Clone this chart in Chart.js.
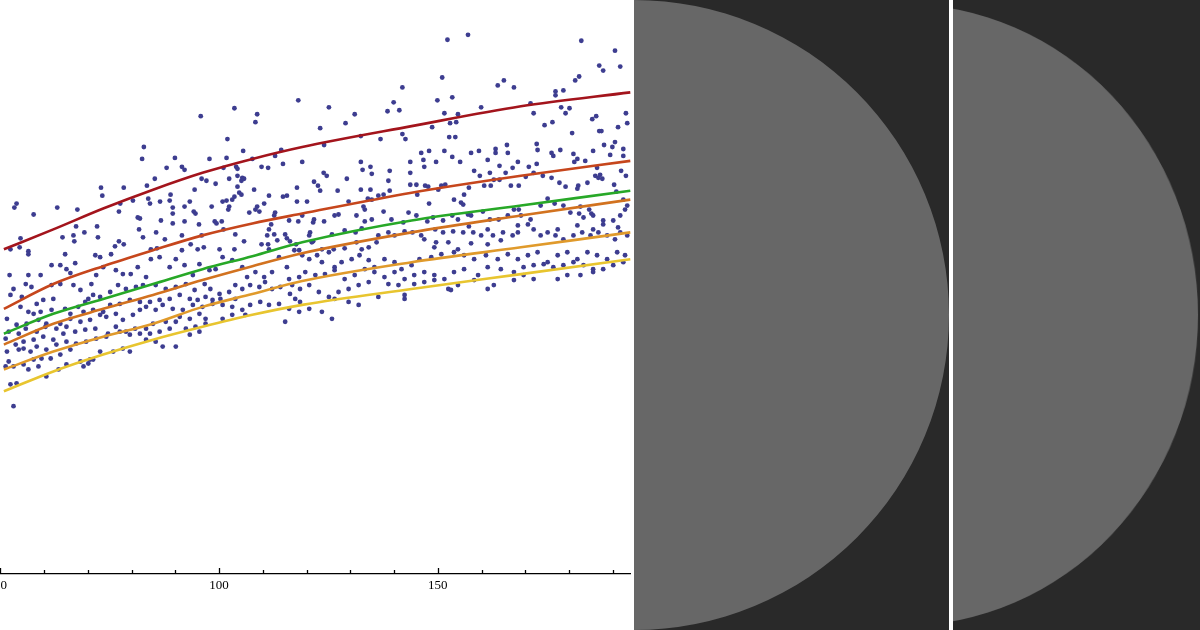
<!DOCTYPE html>
<html><head><meta charset="utf-8">
<script src="https://cdn.jsdelivr.net/npm/chart.js@4.4.1/dist/chart.umd.min.js"></script>
<style>
html,body{margin:0;padding:0;background:#fff;width:1200px;height:630px;overflow:hidden;}
#plotWrap{position:absolute;left:0;top:0;width:631px;height:630px;overflow:hidden;background:#fff;}
#plotBox{position:absolute;left:-60px;top:0;width:695px;height:630px;}
.panel{position:absolute;top:0;height:630px;background:#292929;overflow:hidden;}
#p1{left:634px;width:315px;}
#p2{left:953px;width:247px;}
#disc1{position:absolute;left:-315px;top:0;}
#disc2{position:absolute;left:-362px;top:4px;transform:scaleX(0.952);transform-origin:50% 50%;}
</style></head>
<body>
<div id="plotWrap"><div id="plotBox"><canvas id="plot" width="695" height="630"></canvas></div></div>
<div class="panel" id="p1"><canvas id="disc1" width="630" height="630"></canvas></div>
<div class="panel" id="p2"><canvas id="disc2" width="622" height="622"></canvas></div>
<script>
// x-axis ticks
const xTicks = [50,60,70,80,90,100,110,120,130,140,150,160,170,180,190];
const xTickLabels = [50,100,150];

// observations [x, y]
const observations = [
[118.1,47.7],[95.8,46.1],[103.5,46.9],[108.7,46.3],[108.3,45.5],[101.9,43.8],[82.8,43.0],[82.4,41.8],[89.9,41.9],[97.8,41.8],[101.7,41.9],[105.5,42.6],[107.6,41.8],[114.2,42.7],[112.8,42.1],[114.6,41.3],[109.7,41.0],[111.2,40.9],[88.0,40.9],[91.5,41.0],[92.1,40.7],[101.0,40.9],[103.9,41.0],[104.2,40.8],[85.3,39.8],[83.5,39.1],[73.0,38.9],[78.2,38.9],[73.3,38.1],[96.0,39.8],[97.1,39.6],[99.2,39.3],[102.3,39.8],[104.2,40.1],[105.3,39.9],[105.7,39.8],[105.1,39.6],[104.2,39.0],[108.0,38.7],[104.6,38.4],[105.1,38.2],[94.4,38.7],[88.9,38.2],[83.8,37.8],[84.2,37.3],[86.5,37.5],[88.7,37.6],[89.4,36.9],[89.4,36.3],[92.1,37.0],[93.3,37.5],[94.2,36.5],[94.6,36.3],[98.3,37.0],[100.8,37.5],[101.7,37.6],[102.3,37.0],[102.1,36.7],[103.0,37.7],[103.5,38.0],[111.4,38.1],[110.3,37.3],[108.7,37.0],[108.3,36.7],[106.9,36.4],[109.2,36.5],[112.8,36.4],[112.6,36.1],[114.6,38.0],[115.5,38.1],[117.8,38.9],[117.8,37.5],[118.1,35.5],[116.0,35.6],[111.9,35.2],[111.4,34.7],[112.6,34.2],[115.1,34.2],[115.5,33.8],[116.2,33.5],[118.3,32.6],[117.2,32.6],[117.6,33.2],[111.2,33.2],[109.7,33.2],[111.4,32.7],[113.3,33.6],[111.0,34.1],[103.7,34.2],[105.7,33.5],[101.0,34.7],[100.6,35.5],[99.0,35.5],[99.4,35.3],[96.0,34.1],[95.4,35.2],[92.1,35.5],[89.4,35.3],[86.7,35.6],[91.5,34.1],[93.5,33.2],[95.1,32.7],[96.5,32.9],[87.6,33.7],[85.6,34.4],[81.7,34.7],[82.6,33.9],[81.4,35.9],[81.9,35.8],[80.3,37.6],[77.4,37.3],[77.1,36.5],[67.6,36.7],[63.0,36.9],[57.6,36.2],[53.7,37.3],[53.2,36.9],[67.3,35.0],[72.1,35.0],[69.2,34.4],[66.7,34.1],[64.2,33.9],[66.9,33.5],[72.3,33.9],[77.1,33.5],[78.2,33.2],[76.2,33.0],[54.6,33.8],[54.4,32.9],[52.3,32.7],[56.4,32.5],[84.4,32.7],[85.8,32.8],[100.1,32.7],[103.5,32.7],[91.5,32.6],
[152.2,53.8],[156.9,54.3],[182.8,53.7],[190.5,52.7],[186.9,51.2],[187.8,50.7],[191.7,51.1],[151.0,50.0],[141.9,49.0],[163.7,49.2],[165.1,49.7],[167.4,49.0],[176.9,48.6],[176.9,48.2],[178.7,48.7],[181.4,49.7],[182.3,50.1],[125.1,47.0],[123.1,44.9],[131.0,46.3],[128.9,45.4],[139.9,47.5],[141.2,46.7],[138.5,46.6],[149.9,47.7],[153.3,48.0],[151.5,46.4],[159.9,47.0],[154.6,46.3],[154.2,45.5],[152.8,45.4],[148.7,45.0],[141.9,44.3],[142.6,43.8],[136.9,43.8],[124.0,43.2],[132.4,44.1],[152.6,44.0],[154.0,44.0],[171.2,47.4],[171.9,46.4],[174.4,45.2],[176.2,45.5],[178.2,47.0],[180.1,46.9],[179.2,46.4],[185.3,45.8],[186.2,46.1],[187.4,44.6],[186.9,44.6],[191.2,45.0],[193.0,46.4],[193.3,45.4],[180.7,44.4],
[119.0,41.5],[132.4,41.5],[134.6,41.0],[132.8,40.7],[134.9,40.3],[129.2,39.8],[139.0,40.6],[138.7,39.6],[123.9,40.4],[124.6,40.1],[121.7,39.5],[122.6,39.1],[123.1,38.6],[127.1,38.6],[132.4,38.7],[134.6,38.7],[134.0,37.8],[143.7,41.5],[143.7,40.4],[146.2,42.4],[148.0,42.6],[146.7,41.7],[146.9,41.0],[149.6,41.5],[151.5,42.6],[153.3,42.0],[155.1,41.5],[157.6,42.4],[159.4,42.6],[158.3,40.6],[159.6,40.1],[161.4,41.7],[163.2,42.8],[163.2,42.4],[165.8,43.2],[166.0,42.4],[168.3,41.5],[164.1,41.1],[161.9,40.4],[162.8,39.7],[165.5,40.4],[167.1,40.9],[170.8,41.0],[172.6,41.3],[172.8,42.7],[172.6,43.3],[176.0,42.4],[176.4,42.1],[178.0,42.7],[181.0,42.3],[181.9,41.8],[181.2,41.5],[183.7,41.6],[185.5,42.6],[188.0,43.2],[189.9,43.0],[189.4,42.2],[190.5,43.5],[192.4,42.8],[191.9,40.6],[193.0,40.1],[192.4,42.1],[186.4,40.9],[187.1,40.2],[186.0,40.1],[186.7,39.9],[187.6,39.8],[184.2,39.4],[182.1,39.1],[181.9,38.8],[179.2,39.0],[177.8,39.4],[176.0,39.9],[174.0,40.1],[171.9,40.4],[170.1,40.0],[168.5,39.1],[166.7,39.1],[164.1,39.7],[162.1,39.1],[160.6,39.1],[157.1,38.9],[156.0,38.2],[155.3,37.4],[155.8,37.2],[153.7,37.7],[151.7,39.2],[150.8,39.1],[150.1,38.7],[147.8,39.0],[147.1,39.1],[145.1,39.2],[145.3,38.2],[143.7,39.2],[139.0,38.6],[137.6,38.2],[136.4,38.1],[134.9,37.7],[133.3,36.7],[133.0,37.0],[131.4,36.1],[129.6,37.5],[127.3,36.2],[126.4,36.1],[124.0,35.5],[121.7,35.7],[121.5,35.4],[120.6,34.1],[120.1,37.5],[119.0,36.1],[120.8,34.4],[121.5,33.5],[125.8,34.2],[128.7,34.6],[131.2,34.4],[132.6,34.8],[134.9,35.7],[133.3,35.5],[137.6,36.5],[139.4,35.7],[142.1,35.4],[143.3,36.4],[145.1,36.1],[147.6,35.5],[148.9,35.9],[148.0,37.3],[151.2,35.6],[153.3,36.1],[154.6,35.7],[156.9,36.2],[157.6,36.1],[160.3,36.5],[161.9,35.7],[163.9,35.7],[166.0,36.1],[167.4,36.7],[168.5,36.7],[169.0,36.1],[171.2,35.7],[173.5,37.1],[175.1,37.8],[176.7,37.3],[178.7,37.1],[180.3,36.4],[182.6,37.0],[184.6,36.7],[185.1,36.3],[183.3,35.9],[182.3,36.3],[185.5,36.1],[187.8,35.6],[190.1,35.6],[191.7,36.1],[192.8,36.7],[193.3,37.1],[190.8,38.5],[190.3,39.2],[192.4,37.7],
[170.6,35.2],[168.3,35.1],[164.9,34.4],[162.6,34.1],[161.4,34.7],[159.9,34.1],[158.1,34.4],[157.1,35.0],[155.8,34.4],[153.5,34.5],[151.2,34.4],[149.4,34.7],[146.9,33.7],[146.2,34.1],[144.2,34.4],[142.4,34.5],[140.1,34.1],[138.7,34.4],[136.4,34.1],[136.0,33.4],[134.2,32.9],[132.6,32.7],[131.4,33.4],[128.7,32.8],[126.2,32.7],[123.5,32.7],[121.2,33.4],[149.6,33.4],[149.2,32.9],[152.4,33.4],[154.6,32.7],[157.6,33.3],[161.4,33.2],[164.4,33.6],[167.1,34.1],[168.3,34.4],[171.9,34.7],[175.1,34.4],[176.9,34.1],[178.7,33.7],[181.0,34.1],[183.0,34.4],[184.9,34.1],[186.7,34.4],[188.7,34.1],[190.5,33.7],[191.7,34.4],[193.3,34.1],[173.5,34.1],[177.4,34.7],[181.9,35.1],[185.5,34.7],[187.8,35.2],[191.2,34.9],
[56.4,32.2],[64.8,32.2],[71.7,32.1],[72.8,31.9],[75.3,32.2],[61.7,31.1],[63.7,31.1],[65.1,30.7],[67.1,31.3],[66.0,30.3],[52.1,30.1],[56.4,30.1],[59.2,30.1],[55.8,29.2],[53.0,28.7],[57.1,28.9],[61.7,29.1],[63.7,29.2],[66.7,29.1],[68.3,28.6],[70.8,29.2],[71.9,30.1],[73.5,30.9],[76.4,30.6],[78.0,30.2],[79.8,30.2],[81.4,30.9],[83.3,29.9],[84.4,31.7],[86.4,31.9],[88.7,30.9],[90.1,31.7],[92.1,31.1],[94.0,30.1],[95.5,31.2],[97.8,30.6],[99.2,30.7],[100.8,31.9],[103.0,31.6],[105.3,30.9],[106.4,29.9],[108.3,30.4],[110.3,29.9],[112.1,30.4],[113.7,31.9],[115.5,30.9],[116.0,29.7],[118.3,29.9],[116.7,29.1],[118.5,28.7],
[52.3,28.1],[54.9,27.9],[58.3,27.2],[59.8,27.6],[62.1,27.7],[54.6,26.9],[57.6,26.2],[59.2,26.4],[56.4,26.4],[61.7,26.6],[64.8,26.7],[66.0,26.2],[69.4,27.4],[70.1,27.7],[71.2,28.1],[72.8,27.9],[75.1,28.4],[76.9,29.1],[78.7,28.7],[81.0,28.9],[82.6,29.1],[85.5,29.1],[87.8,28.7],[90.1,28.9],[92.4,29.2],[94.4,28.6],[96.7,29.2],[98.0,28.7],[100.1,28.2],[102.3,28.4],[103.7,29.1],[105.3,28.7],[107.1,29.1],[109.2,28.9],[110.5,29.4],[112.1,28.7],[114.0,28.9],[116.2,28.2],[117.4,27.7],[118.5,27.4],[103.7,27.7],[100.3,27.7],[98.5,27.6],[96.9,27.9],[95.1,27.6],[93.3,27.7],[91.0,28.1],[88.7,27.7],[86.4,27.6],[84.2,27.4],[81.9,27.4],[79.6,27.6],[77.3,27.2],[75.1,27.1],[73.5,26.4],[71.2,26.6],[69.0,26.4],[67.8,26.9],[66.0,25.7],[63.7,25.2],[60.5,25.2],[58.7,25.6],[56.0,25.2],[53.7,25.1],[51.5,25.7],[51.9,24.4],[54.2,24.2],[55.8,24.7],[58.3,24.4],[60.3,24.9],[62.8,24.7],[65.1,24.9],[68.3,25.4],[70.5,25.6],[72.8,26.1],[74.2,25.9],[76.4,26.2],[78.0,25.6],[80.3,26.1],[81.9,26.6],[83.3,26.9],[85.5,26.6],[87.1,27.1],[89.4,26.7],[91.7,26.6],[94.0,27.1],[96.2,26.9],[98.5,27.2],[100.8,27.1],[103.0,26.9],[105.3,26.6],[107.1,27.1],[109.4,27.4],[111.4,27.1],[113.7,27.2],[116.0,26.7],[118.3,26.4],[115.1,25.4],[106.0,26.1],[103.0,26.1],[100.8,25.7],[96.9,25.7],[95.5,26.2],[93.3,25.7],[91.0,25.9],[87.8,25.4],[84.9,25.2],[83.3,24.7],[80.8,24.7],[78.7,24.4],[76.4,24.9],[74.6,24.2],[71.7,24.7],[69.4,24.6],[67.1,24.4],[64.4,24.2],[62.1,23.6],[59.8,23.9],[57.6,23.6],[55.3,23.4],[53.5,23.1],[51.2,23.7],[51.5,22.4],[54.2,22.6],[55.3,22.7],[56.9,22.4],[58.3,22.9],[60.5,22.6],[62.8,23.1],[65.1,23.4],[67.3,23.2],[69.6,23.4],[71.9,23.7],[74.2,23.9],[77.3,24.4],[79.6,24.1],[81.9,24.2],[84.2,24.2],[86.4,24.4],[88.7,24.7],[90.1,25.4],[92.4,24.7],[94.6,24.9],[96.9,25.2],[66.0,22.6],[63.7,22.1],[61.5,21.7],[59.4,21.7],[57.6,21.6],[55.3,21.1],[53.0,20.9],[51.9,21.4],[51.2,20.9],[56.4,20.6],[58.7,20.9],[60.5,19.9],[63.3,20.6],[65.1,21.1],[68.3,21.4],[70.5,21.6],[72.8,22.4],[75.8,22.4],[78.0,22.7],[79.6,22.4],[83.3,23.6],[85.5,23.4],[87.1,22.9],[90.1,22.9],[93.3,24.1],[95.5,24.4],[53.7,19.2],[52.3,19.1],[53.0,16.9],[69.0,20.9],[70.1,21.2],[71.2,21.6],
[119.0,32.1],[120.6,31.7],[122.4,32.1],[123.5,31.4],[125.1,32.4],[126.4,30.9],[128.0,31.4],[130.3,31.7],[132.1,32.1],[134.2,31.6],[135.5,30.9],[137.8,31.7],[140.1,31.4],[141.7,30.7],[144.0,31.1],[145.8,31.7],[148.5,31.9],[150.8,32.2],[153.7,32.4],[156.0,32.1],[158.3,31.7],[161.0,32.1],[163.7,31.7],[166.0,32.2],[168.3,31.7],[170.6,32.1],[172.8,32.4],[175.1,31.4],[177.4,32.1],[179.6,32.4],[181.9,31.7],[184.2,32.4],[186.4,32.1],[188.7,31.7],[191.0,32.4],[192.8,32.1],[119.7,30.4],[122.0,30.1],[124.2,30.2],[126.4,30.6],[128.7,29.7],[131.0,30.1],[133.3,30.7],[135.5,30.4],[137.8,29.9],[140.1,30.4],[142.4,29.7],[144.6,30.1],[146.9,30.4],[149.2,30.1],[151.5,29.7],[153.7,30.4],[156.0,30.7],[159.2,30.1],[161.4,30.9],[164.4,30.7],[167.4,30.4],[169.6,30.9],[171.9,31.1],[174.2,31.2],[176.4,30.9],[178.7,31.1],[181.0,31.4],[183.3,31.1],[185.5,30.7],[187.8,30.7],[190.1,31.1],[192.4,31.4],[120.6,29.1],[122.8,28.4],[125.1,27.9],[127.3,28.4],[129.6,28.7],[131.9,29.1],[134.2,29.4],[136.4,27.9],[138.7,29.2],[141.0,29.1],[142.4,28.1],[144.6,29.2],[146.9,29.4],[149.2,29.6],[152.4,28.7],[154.6,29.1],[158.3,29.6],[161.4,28.7],[162.8,29.1],[167.4,29.6],[169.6,30.1],[171.9,29.7],[177.4,29.7],[179.6,30.1],[182.6,30.1],[185.5,30.4],[123.5,26.4],[125.8,25.7],[120.6,26.7],[126.4,27.7],[129.6,27.4],[131.9,27.1],[142.4,27.7],[153.0,28.6]
];

// quantile curves
const curveX = [50.8,62.1,73.5,84.9,96.2,107.6,119.0,144.0,169.0,194.0];
const q1Y = [32.7,34.7,36.8,38.7,40.4,41.8,43.0,45.1,47.1,48.5];
const q2Y = [26.7,29.2,31.0,32.6,34.1,35.3,36.3,38.4,40.1,41.6];
const q3Y = [24.2,26.2,27.7,29.2,30.7,32.0,33.4,35.6,37.1,38.6];
const q4Y = [23.1,25.2,26.7,28.1,29.6,31.0,32.3,34.4,36.1,37.7];
const q5Y = [20.6,22.4,23.9,25.2,26.9,28.2,29.5,31.4,32.9,34.4];
const q6Y = [18.4,20.4,22.1,23.6,24.9,26.1,27.1,28.7,30.2,31.7];
const curveColors = ['#a3141c','#c6461c','#27a827','#d2721f','#e09a2b','#e8c52f'];

// disc shares
const discShare = [1];

const curveSets = [q1Y,q2Y,q3Y,q4Y,q5Y,q6Y].map((ys,i)=>({
  type:'line', data: curveX.map((x,j)=>({x, y: ys[j]})),
  borderColor: curveColors[i], borderWidth: 2.6, pointRadius: 0,
  cubicInterpolationMode:'monotone', fill:false, order:0
}));

const innerTicks = {
  id:'innerTicks',
  afterDraw(chart){
    const sc = chart.scales.x, ctx = chart.ctx, bottom = chart.chartArea.bottom;
    ctx.save(); ctx.strokeStyle='#000'; ctx.lineWidth=1.3;
    sc.ticks.forEach(t=>{
      const px = Math.round(sc.getPixelForValue(t.value))+0.5;
      const len = xTickLabels.includes(t.value) ? 6 : 4;
      ctx.beginPath(); ctx.moveTo(px,bottom); ctx.lineTo(px,bottom-len); ctx.stroke();
    });
    ctx.restore();
  }
};

new Chart(document.getElementById('plot'), {
  type:'scatter',
  data:{datasets:[
    ...curveSets,
    {type:'scatter', data: observations.map(([x,y])=>({x,y})), backgroundColor:'#3d3d90', borderWidth:0, pointRadius:2.4, order:1}
  ]},
  options:{
    responsive:false, animation:false, events:[],
    layout:{padding:{left:0,right:0,top:0,bottom:32.4}},
    plugins:{legend:{display:false}, tooltip:{enabled:false}},
    scales:{
      x:{type:'linear', min:37.11, max:194.16,
         afterBuildTicks:(s)=>{ s.ticks = xTicks.map(v=>({value:v})); },
         grid:{display:false, drawTicks:false},
         border:{display:true, color:'#000', width:1.2},
         ticks:{autoSkip:false, maxRotation:0, padding:4, color:'#000',
           font:{family:'"Liberation Serif", "DejaVu Serif", serif', size:13},
           callback:(v)=> xTickLabels.includes(v) ? String(v) : ''}
      },
      y:{type:'linear', display:false, min:0, max:57.4}
    }
  },
  plugins:[innerTicks]
});

const discOpts = {responsive:false, animation:false, events:[], layout:{padding:0},
  plugins:{legend:{display:false}, tooltip:{enabled:false}}};
['disc1','disc2'].forEach(id=>{
  new Chart(document.getElementById(id), {
    type:'pie',
    data:{datasets:[{data: discShare, backgroundColor:'#676767', borderWidth:0}]},
    options: discOpts
  });
});
</script>
</body></html>
